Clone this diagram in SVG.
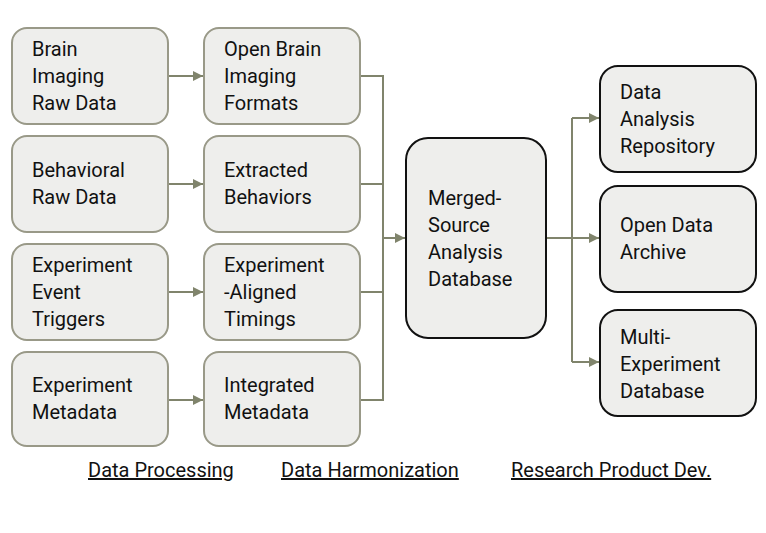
<svg xmlns="http://www.w3.org/2000/svg" width="766" height="533" viewBox="0 0 766 533">
<style>
text{font-family:Roboto,"Liberation Sans",sans-serif;font-size:20px;fill:#111}
.g{fill:#eeeeec;stroke:#999988;stroke-width:2}
.k{fill:#eeeeec;stroke:#111;stroke-width:2}
.c{fill:none;stroke:#80846c;stroke-width:2}
.u{text-decoration:underline}
</style>
<defs><marker id="a" viewBox="0 0 10 10" refX="10" refY="5" markerWidth="5" markerHeight="5" orient="auto"><path d="M0,0L10,5L0,10z" fill="#80846c"/></marker></defs>
<rect width="766" height="533" fill="#fff"/>
<g id="connectors">
<path class="c" marker-end="url(#a)" d="M168,76H203"/>
<path class="c" marker-end="url(#a)" d="M168,184H203"/>
<path class="c" marker-end="url(#a)" d="M168,292H203"/>
<path class="c" marker-end="url(#a)" d="M168,400H203"/>
<path class="c" d="M360,76H383V400H360M360,184H383M360,292H383"/>
<path class="c" marker-end="url(#a)" d="M383,238H405"/>
<path class="c" d="M546,238H572M572,118V362"/>
<path class="c" marker-end="url(#a)" d="M572,118H599"/>
<path class="c" marker-end="url(#a)" d="M572,238H599"/>
<path class="c" marker-end="url(#a)" d="M572,362H599"/>
</g>
<g id="n1"><rect class="g" x="12" y="28" width="156" height="96" rx="15"/><text x="32" y="56">Brain</text><text x="32" y="83">Imaging</text><text x="32" y="110">Raw Data</text></g>
<g id="n2"><rect class="g" x="12" y="136" width="156" height="96" rx="15"/><text x="32" y="177">Behavioral</text><text x="32" y="204">Raw Data</text></g>
<g id="n3"><rect class="g" x="12" y="244" width="156" height="96" rx="15"/><text x="32" y="272">Experiment</text><text x="32" y="299">Event</text><text x="32" y="326">Triggers</text></g>
<g id="n4"><rect class="g" x="12" y="352" width="156" height="94" rx="15"/><text x="32" y="392">Experiment</text><text x="32" y="419">Metadata</text></g>
<g id="n5"><rect class="g" x="204" y="28" width="156" height="96" rx="15"/><text x="224" y="56">Open Brain</text><text x="224" y="83">Imaging</text><text x="224" y="110">Formats</text></g>
<g id="n6"><rect class="g" x="204" y="136" width="156" height="96" rx="15"/><text x="224" y="177">Extracted</text><text x="224" y="204">Behaviors</text></g>
<g id="n7"><rect class="g" x="204" y="244" width="156" height="96" rx="15"/><text x="224" y="272">Experiment</text><text x="224" y="299">-Aligned</text><text x="224" y="326">Timings</text></g>
<g id="n8"><rect class="g" x="204" y="352" width="156" height="94" rx="15"/><text x="224" y="392">Integrated</text><text x="224" y="419">Metadata</text></g>
<g id="n9"><rect class="k" x="406" y="138" width="140" height="200" rx="22"/><text x="428" y="205">Merged-</text><text x="428" y="232">Source</text><text x="428" y="259">Analysis</text><text x="428" y="286">Database</text></g>
<g id="n10"><rect class="k" x="600" y="66" width="156" height="106" rx="18"/><text x="620" y="99">Data</text><text x="620" y="126">Analysis</text><text x="620" y="153">Repository</text></g>
<g id="n11"><rect class="k" x="600" y="186" width="156" height="106" rx="18"/><text x="620" y="232">Open Data</text><text x="620" y="259">Archive</text></g>
<g id="n12"><rect class="k" x="600" y="310" width="156" height="106" rx="18"/><text x="620" y="344">Multi-</text><text x="620" y="371">Experiment</text><text x="620" y="398">Database</text></g>
<text class="u" x="88" y="477">Data Processing</text>
<text class="u" x="281" y="477">Data Harmonization</text>
<text class="u" x="511" y="477">Research Product Dev.</text>
</svg>
